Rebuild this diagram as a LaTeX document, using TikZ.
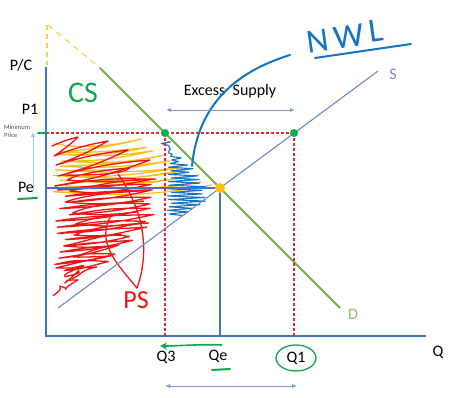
\documentclass[tikz,border=0pt]{standalone}
\usepackage{fontspec}
\setmainfont{Carlito}
\usetikzlibrary{arrows.meta}
\definecolor{axisblue}{RGB}{68,114,196}
\definecolor{supblue}{RGB}{112,135,200}
\definecolor{demgreen}{RGB}{112,173,71}
\definecolor{dlabel}{RGB}{140,190,105}
\definecolor{dashred}{RGB}{225,40,55}
\definecolor{dotgreen}{RGB}{0,176,80}
\definecolor{dotyellow}{RGB}{255,192,0}
\definecolor{hgreen}{RGB}{20,165,80}
\definecolor{hblue}{RGB}{20,115,195}
\definecolor{scorange}{RGB}{250,190,30}
\definecolor{scred}{RGB}{240,20,20}
\definecolor{lightarrow}{RGB}{130,150,210}
\definecolor{cyanarrow}{RGB}{150,205,235}
\definecolor{yelldash}{RGB}{255,205,80}
\begin{document}
\begin{tikzpicture}[x=1pt,y=-1pt,
  lbl/.style={font=\fontsize{16}{18}\selectfont, inner sep=0pt},
  hand/.style={inner sep=0pt},
  nwlletter/.style={inner sep=0pt, text=hblue, font=\fontsize{34}{36}\selectfont, rotate=8, anchor=base},
  scrib/.style={line width=1.3pt, line join=round, line cap=round},
  dashline/.style={dashred, line width=1.1pt, dash pattern=on 3pt off 2pt},
  dbl/.style={lightarrow, line width=0.8pt, {Latex[length=5pt,width=4pt]}-{Latex[length=5pt,width=4pt]}}
]
\useasboundingbox (0,0) rectangle (474,398);
\pgfmathsetseed{23}
% key coordinates
\coordinate (O) at (46,336);
\coordinate (Ytop) at (46,67);
\coordinate (Xend) at (426,336);
\coordinate (Dtop) at (100,68);
\coordinate (Dend) at (340,308);
\coordinate (Dapex) at (48,25);
\coordinate (Vtop) at (47,25);
\coordinate (Vbot) at (47,65);
\coordinate (S0) at (58,308);
\coordinate (S1) at (378,71);
\coordinate (E) at (220,188);
\coordinate (Peax) at (46,188);
\coordinate (Qeax) at (220,336);
\coordinate (A) at (165,133);
\coordinate (B) at (294,133);
\coordinate (P1ax) at (46,133);
\coordinate (Q3ax) at (165,336);
\coordinate (Q1ax) at (294,336);

% scribbles: orange
\draw[scrib, scorange] (56,144)
  \foreach \i [evaluate=\i as \y using 144+5*\i] in {0,...,9} {
    to[bend left=6] ({52+14*rnd},{\y+3*rnd})
    to[bend right=6] ({min(140+(\y-140)*1.6,\y+28)-10*rnd},{\y-5+4*rnd}) };
% red, sparse upper part
\draw[scrib, scred] (52,146) to[bend left=5] (78,137) to[bend left=5] (54,156)
  to[bend left=5] (108,141) to[bend left=5] (56,165) to[bend left=5] (128,150)
  to[bend left=5] (58,176) to[bend left=5] (150,160) to[bend left=5] (55,186);
% red, dense lower part
\draw[scrib, scred] (55,186)
  \foreach \i [evaluate=\i as \y using 186+6.2*\i] in {0,...,17} {
    to[bend left=5] ({min(158,58+(308-\y)*1.35-4)-18*rnd},{\y-9+4*rnd})
    to[bend left=5] ({52+18*rnd},{\y+4}) };
\draw[scrib, scred] (62,175)
  \foreach \i [evaluate=\i as \y using 175+11*\i] in {0,...,9} {
    to[bend right=6] ({min(156,58+(308-\y)*1.35-6)-28*rnd},{\y-7})
    to[bend right=6] ({56+20*rnd},{\y+5}) };
% blue
\draw[scrib, hblue, line width=1.1pt] (168,142)
  \foreach \i [evaluate=\i as \y using 142+3.6*\i] in {0,...,20} {
    -- ({167+5*rnd},{\y}) -- ({min(\y+26,208,58+(308-\y)*1.4)-8*rnd},{\y+1.5}) };
% PS leaf
\draw[scrib, scred] (118,174) .. controls (140,205) and (152,245) .. (137,288)
  .. controls (122,270) and (108,255) .. (106,238) .. controls (105,228) and (108,220) .. (112,214);

% axes
\draw[axisblue, line width=1.8pt] (Ytop) -- (O) -- (Xend);
% equilibrium lines
\draw[axisblue, line width=1.3pt] (Peax) -- (E) -- (Qeax);
% supply
\draw[supblue, line width=1.1pt] (S0) -- (S1);
% demand
\draw[yelldash, line width=1.3pt, dash pattern=on 5pt off 4pt] (Vtop) -- (Vbot);
\draw[yelldash, line width=1.3pt, dash pattern=on 6pt off 5pt] (Dapex) -- (Dtop);
\draw[demgreen, line width=1.8pt] (Dtop) -- (Dend);
% price floor dashed lines
\draw[dashline] (P1ax) -- (B);
\draw[dashline] (A) -- (Q3ax);
\draw[dashline] (B) -- (Q1ax);
% dots
\fill[dotgreen] (A) circle (4);
\fill[dotgreen] (B) circle (4);
\fill[dotyellow] (E) circle (5);

% labels
\node[lbl] (pc) at (21,65) {P/C};
\node[lbl] (p1) at (30,109) {P1};
\node[lbl] (pe) at (26,187) {Pe};
\node[inner sep=0pt, font=\fontsize{6.5}{7.5}\selectfont, align=left, anchor=west, text=black!70] (minp) at (4,131) {Minimum\\[0.5pt]Price};
\node[lbl] (q3) at (166,357) {Q3};
\node[lbl] (qe) at (218,356) {Qe};
\node[lbl] (q1) at (296,358) {Q1};
\node[lbl] (q) at (438,352) {Q};
\node[lbl] (es) at (230,91) {Excess\ \ Supply};
\node[lbl, text=supblue] (slab) at (393,74) {S};
\node[lbl, text=dlabel] (dlab) at (353,314) {D};

% handwritten
\node[hand, text=hgreen, font=\fontsize{30}{32}\selectfont] (cs) at (83,93) {CS};
\node[hand, text=scred, font=\fontsize{26}{28}\selectfont] (ps) at (136,300) {PS};
\node[nwlletter] (nwlN) at (319,52) {N};
\node[nwlletter] (nwlW) at (350,47) {W};
\node[nwlletter] (nwlL) at (378,42) {L};
\coordinate (ul1) at (315,58);
\coordinate (ul2) at (411,44);
\draw[hblue, line width=2pt, line cap=round] (ul1) -- (ul2);
\coordinate (c1) at (290,55);
\coordinate (c2) at (192,166);
\draw[hblue, line width=2pt, line cap=round] (c1) .. controls (235,72) and (198,105) .. (c2);

% green marks
\coordinate (gm1) at (38,133);
\draw[dotgreen, line width=2pt, line cap=round] (gm1) -- (P1ax);
\coordinate (ga) at (18,199);
\coordinate (gb) at (37,198);
\draw[hgreen, line width=2pt, line cap=round] (ga) -- (gb);
\coordinate (gc) at (212,370);
\coordinate (gd) at (230,369);
\draw[hgreen, line width=2pt, line cap=round] (gc) -- (gd);
\coordinate (ge) at (222,345);
\coordinate (gf) at (160,346);
\draw[hgreen, line width=1.6pt, -{Stealth[length=7pt,width=7pt]}] (ge) .. controls (200,344) and (180,346) .. (gf);
\draw[hgreen, line width=1.3pt] (q1) ellipse (20 and 13);

% cyan arrow
\coordinate (ca) at (33,190);
\coordinate (cb) at (33,132);
\draw[cyanarrow, line width=0.9pt, -{Latex[length=5pt,width=5pt]}] (ca) -- (cb);

% double arrows
\coordinate (ex1) at (166,110);
\coordinate (ex2) at (295,110);
\draw[dbl] (ex1) -- (ex2);
\coordinate (bo1) at (165,386);
\coordinate (bo2) at (297,386);
\draw[dbl] (bo1) -- (bo2);
\end{tikzpicture}
\end{document}
